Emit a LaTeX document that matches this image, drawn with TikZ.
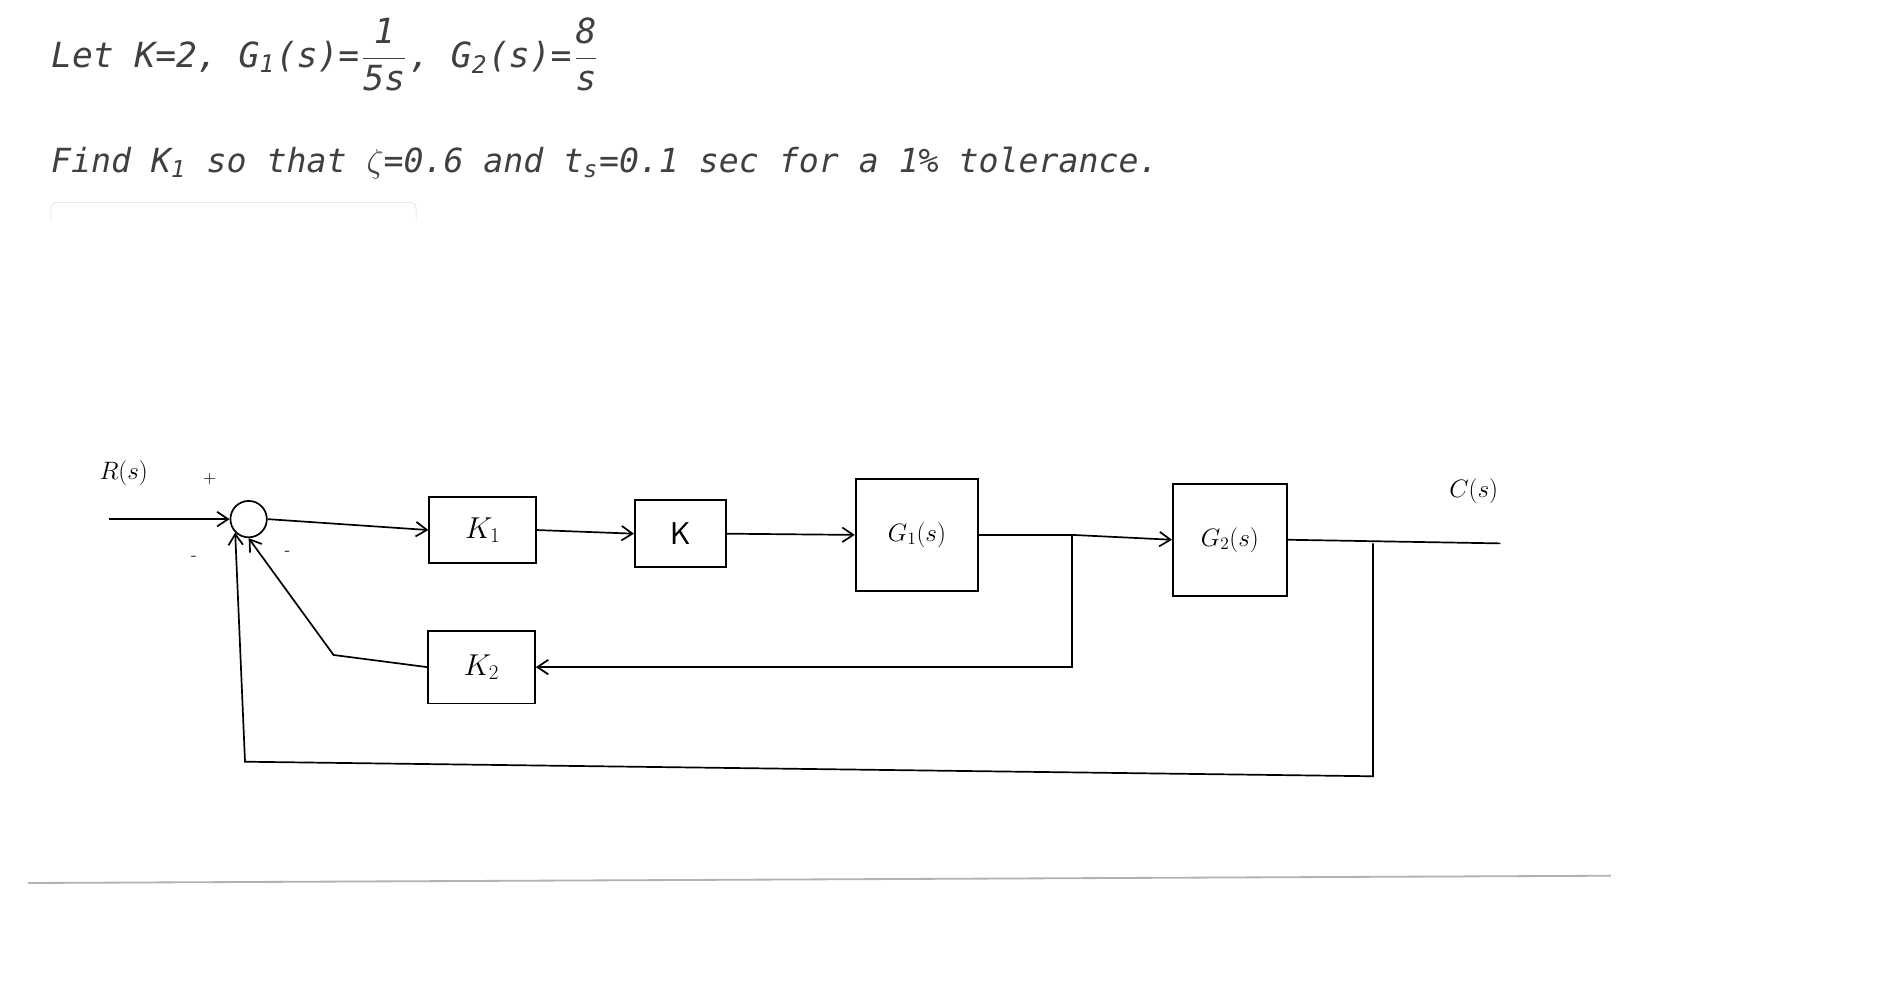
\documentclass[tikz,border=0pt]{standalone}
\usepackage{fontspec}
\usepackage{amsmath}
\newfontfamily\qfont{DejaVu Sans Mono}
\usetikzlibrary{arrows.meta}
\newcommand{\qfr}[2]{\ensuremath{\dfrac{\text{\qfont #1}}{\text{\qfont #2}}}}
\begin{document}
\begin{tikzpicture}[x=1pt,y=-1pt,
  blk/.style={draw,line width=1.6pt,minimum width=#1,inner sep=0pt,font=\fontsize{26}{28}\selectfont},
  sig/.style={line width=1.4pt,-{Straight Barb[length=9pt,width=12pt]}},
  wire/.style={line width=1.4pt},
  hand/.style={font=\fontsize{22}{24}\selectfont}]
\useasboundingbox (0,0) rectangle (1550,820);
\fill[white] (0,0) rectangle (1550,820);
% question text
\node[anchor=west,inner sep=0pt,text=black!75] (q1) at (42,45)
  {\resizebox{453pt}{!}{\qfont\itshape Let K=2, G\textsubscript{1}(s)=\qfr{1}{5s}, G\textsubscript{2}(s)=\qfr{8}{s}}};
\node[anchor=base west,inner sep=0pt,text=black!75] (q2) at (42,142)
  {\resizebox{913pt}{!}{\qfont\itshape Find K\textsubscript{1} so that $\zeta$=0.6 and t\textsubscript{s}=0.1 sec for a 1\% tolerance.}};
\draw[black!15,rounded corners=4pt] (42,183) -- (42,167) -- (343,167) -- (343,183);
% blocks
\node[circle,draw,line width=1.4pt,minimum size=30pt,inner sep=0pt] (sum) at (205,428) {};
\node[blk=88pt,minimum height=55pt] (k1) at (398,437) {$K_1$};
\node[blk=75pt,minimum height=55pt] (k) at (561,440) {\sffamily K};
\node[blk=101pt,minimum height=92pt] (g1) at (756,441) {};
\node[hand] at (g1) {$G_1(s)$};
\node[blk=94pt,minimum height=92pt] (g2) at (1014,445) {};
\node[hand] at (g2) {$G_2(s)$};
\node[blk=88pt,minimum height=60pt] (k2) at (397,550) {$K_2$};
% labels
\node[hand] (rl) at (102,390) {$R(s)$};
\node[hand] (cl) at (1215,405) {$C(s)$};
\node[font=\Large] (p1) at (173,395) {+};
\node[font=\Large] (m1) at (160,460) {-};
\node[font=\Large] (m2) at (237,456) {-};
% coordinates
\coordinate (in) at (90,428);
\coordinate (b1) at (884,441);
\coordinate (b1d) at (884,550);
\coordinate (b2) at (1132,448);
\coordinate (out) at (1237,448);
\coordinate (b2d) at (1132,640);
\coordinate (fl) at (202,628);
\coordinate (kl) at (275,540);
% connectors
\draw[sig] (in) -- (sum.west);
\draw[sig] (sum.east) -- (k1.west);
\draw[sig] (k1.east) -- (k.west);
\draw[sig] (k.east) -- (g1.west);
\draw[wire] (g1.east) -- (b1);
\draw[sig] (b1) -- (g2.west);
\draw[wire] (g2.east) -- (out);
\draw[sig] (b1) -- (b1d) -- (k2.east);
\draw[sig] (k2.west) -- (kl) -- (sum.south);
\draw[sig] (b2) -- (b2d) -- (fl) -- (sum.south west);
% bottom rule
\draw[black!30,line width=1.5pt] (23,728) -- (1328,722);
\end{tikzpicture}
\end{document}
